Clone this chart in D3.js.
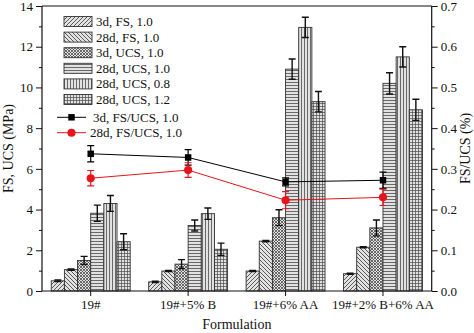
<!DOCTYPE html>
<html>
<head>
<meta charset="utf-8">
<script src="https://cdn.jsdelivr.net/npm/d3@7"></script>
<style>
  html, body { margin: 0; padding: 0; background: #fff; }
  svg { display: block; font-family: "Liberation Serif", "Times New Roman", serif; }
</style>
</head>
<body>
<svg id="chart" width="474" height="333"></svg>
<script>
// Formulations on the x axis
const categories = ["19#", "19#+5% B", "19#+6% AA", "19#+2% B+6% AA"];

// Bar series (MPa) and their error half-widths
const seriesNames = ["3d, FS, 1.0", "28d, FS, 1.0", "3d, UCS, 1.0", "28d, UCS, 1.0", "28d, UCS, 0.8", "28d, UCS, 1.2"];
const fs3d      = [0.50, 0.45, 0.98, 0.85];
const fs3dErr   = [0.04, 0.03, 0.03, 0.03];
const fs28d     = [1.05, 0.98, 2.45, 2.15];
const fs28dErr  = [0.03, 0.03, 0.03, 0.03];
const ucs3d     = [1.50, 1.32, 3.60, 3.10];
const ucs3dErr  = [0.20, 0.22, 0.39, 0.39];
const ucs28d10  = [3.82, 3.22, 10.90, 10.20];
const ucs28d10Err = [0.40, 0.27, 0.50, 0.52];
const ucs28d08  = [4.30, 3.80, 12.95, 11.50];
const ucs28d08Err = [0.39, 0.28, 0.50, 0.50];
const ucs28d12  = [2.42, 2.05, 9.30, 8.90];
const ucs28d12Err = [0.39, 0.30, 0.50, 0.52];

// Ratio series (%) on the right axis
const ratio3d     = [0.337, 0.328, 0.268, 0.272];
const ratio3dErr  = [0.020, 0.019, 0.010, 0.020];
const ratio28d    = [0.277, 0.297, 0.223, 0.230];
const ratio28dErr = [0.019, 0.018, 0.021, 0.020];
const ratioNames  = ["3d, FS/UCS, 1.0", "28d, FS/UCS, 1.0"];

// Tick labels
const leftTicks  = [0, 2, 4, 6, 8, 10, 12, 14];
const rightTicks = [0.0, 0.1, 0.2, 0.3, 0.4, 0.5, 0.6, 0.7];

const barValues = [fs3d, fs28d, ucs3d, ucs28d10, ucs28d08, ucs28d12];
const barErrors = [fs3dErr, fs28dErr, ucs3dErr, ucs28d10Err, ucs28d08Err, ucs28d12Err];
const patternIds = ["p-diag-up", "p-diag-down", "p-cross", "p-horiz", "p-vert", "p-grid"];

const svg = d3.select("#chart");
const margin = { left: 42, right: 474 - 431.7, top: 6, bottom: 333 - 291 };
const W = 474, H = 333;
const x0 = margin.left, x1 = W - margin.right, yTop = margin.top, yBot = H - margin.bottom;

// Hatch fills
const defs = svg.append("defs");
const hatchColor = "#4a4a4a";
const hatchBg = "#e2e2e2";
function pattern(id, size, draw) {
  const p = defs.append("pattern").attr("id", id)
    .attr("patternUnits", "userSpaceOnUse").attr("width", size).attr("height", size);
  p.append("rect").attr("width", size).attr("height", size).attr("fill", hatchBg);
  draw(p, size);
}
pattern("p-diag-up", 4, (p, s) => p.append("path")
  .attr("d", `M-1,1 L1,-1 M0,${s} L${s},0 M${s - 1},${s + 1} L${s + 1},${s - 1}`)
  .attr("stroke", hatchColor).attr("stroke-width", 0.9));
pattern("p-diag-down", 4, (p, s) => p.append("path")
  .attr("d", `M-1,${s - 1} L1,${s + 1} M0,0 L${s},${s} M${s - 1},-1 L${s + 1},1`)
  .attr("stroke", hatchColor).attr("stroke-width", 0.9));
pattern("p-cross", 3, (p, s) => p.append("path")
  .attr("d", `M0,0 L${s},${s} M0,${s} L${s},0`)
  .attr("stroke", hatchColor).attr("stroke-width", 0.8));
pattern("p-horiz", 3, (p, s) => p.append("path")
  .attr("d", `M0,1.5 L${s},1.5`).attr("stroke", hatchColor).attr("stroke-width", 0.8));
pattern("p-vert", 3, (p, s) => p.append("path")
  .attr("d", `M1.5,0 L1.5,${s}`).attr("stroke", hatchColor).attr("stroke-width", 0.8));
pattern("p-grid", 3, (p, s) => p.append("path")
  .attr("d", `M0,1.5 L${s},1.5 M1.5,0 L1.5,${s}`).attr("stroke", hatchColor).attr("stroke-width", 0.7));

// Scales
const x = d3.scaleBand().domain(categories).range([x0, x1]).padding(0);
const groupW = x.bandwidth() * 0.81;
const xi = d3.scaleBand().domain(d3.range(seriesNames.length)).range([-groupW / 2, groupW / 2]).padding(0);
const yL = d3.scaleLinear().domain([0, 14]).range([yBot, yTop]);
const yR = d3.scaleLinear().domain([0, 0.7]).range([yBot, yTop]);

// Bars
const bars = svg.append("g");
barValues.forEach((vals, si) => {
  bars.selectAll(null).data(vals).join("rect")
    .attr("x", (d, i) => x(categories[i]) + x.bandwidth() / 2 + xi(si))
    .attr("y", d => yL(d))
    .attr("width", xi.bandwidth())
    .attr("height", d => yL(0) - yL(d))
    .attr("fill", `url(#${patternIds[si]})`)
    .attr("stroke", "#333").attr("stroke-width", 0.9);
});

// Bar error bars
const errG = svg.append("g").attr("stroke", "#111").attr("stroke-width", 1.4).attr("fill", "none");
barValues.forEach((vals, si) => {
  vals.forEach((v, i) => {
    const cx = x(categories[i]) + x.bandwidth() / 2 + xi(si) + xi.bandwidth() / 2;
    const e = barErrors[si][i];
    const yt = yL(v + e), yb = yL(v - e);
    errG.append("path").attr("d",
      `M${cx},${yt} L${cx},${yb} M${cx - 3.5},${yt} L${cx + 3.5},${yt} M${cx - 3.5},${yb} L${cx + 3.5},${yb}`);
  });
});

// Ratio lines
const cxOf = i => x(categories[i]) + x.bandwidth() / 2;
function ratioSeries(vals, errs, color, marker) {
  const g = svg.append("g");
  g.append("path").datum(vals)
    .attr("d", d3.line().x((d, i) => cxOf(i)).y(d => yR(d)))
    .attr("fill", "none").attr("stroke", color).attr("stroke-width", 1);
  vals.forEach((v, i) => {
    const cx = cxOf(i), yt = yR(v + errs[i]), yb = yR(v - errs[i]);
    g.append("path").attr("d",
      `M${cx},${yt} L${cx},${yb} M${cx - 3.5},${yt} L${cx + 3.5},${yt} M${cx - 3.5},${yb} L${cx + 3.5},${yb}`)
      .attr("stroke", color).attr("stroke-width", 1.2).attr("fill", "none");
  });
  g.selectAll(null).data(vals).join("path")
    .attr("transform", (d, i) => `translate(${cxOf(i)},${yR(d)})`)
    .attr("d", d3.symbol().type(marker).size(marker === d3.symbolSquare ? 42 : 52))
    .attr("fill", color);
}
ratioSeries(ratio3d, ratio3dErr, "#000", d3.symbolSquare);
ratioSeries(ratio28d, ratio28dErr, "#e8141c", d3.symbolCircle);

// Axes
const fontSize = 13;
const leftAxis = svg.append("g").attr("transform", `translate(${x0},0)`)
  .call(d3.axisLeft(yL).tickValues(leftTicks).tickSize(6).tickPadding(3).tickFormat(d3.format("d")));
svg.append("g").attr("transform", `translate(${x0},0)`)
  .call(d3.axisLeft(yL).tickValues(d3.range(1, 14, 2)).tickSize(3).tickFormat(""))
  .select(".domain").remove();
const rightAxis = svg.append("g").attr("transform", `translate(${x1},0)`)
  .call(d3.axisRight(yR).tickValues(rightTicks).tickSize(6).tickPadding(3).tickFormat(d3.format(".1f")));
svg.append("g").attr("transform", `translate(${x1},0)`)
  .call(d3.axisRight(yR).tickValues(d3.range(0.05, 0.7, 0.1)).tickSize(3).tickFormat(""))
  .select(".domain").remove();
const bottomAxis = svg.append("g").attr("transform", `translate(0,${yBot})`)
  .call(d3.axisBottom(x).tickSize(5).tickPadding(4));

svg.selectAll(".tick text").attr("font-size", fontSize).attr("font-family", "Liberation Serif").attr("fill", "#111");
svg.selectAll(".tick line").attr("stroke", "#111").attr("stroke-width", 1);
svg.selectAll(".domain").attr("stroke", "#111").attr("stroke-width", 1.2);
leftAxis.select(".domain").attr("d", `M0,${yBot}V${yTop}`);
rightAxis.select(".domain").attr("d", `M0,${yBot}V${yTop}`);
bottomAxis.select(".domain").attr("d", `M${x0},0H${x1}`);

// Top frame line
svg.append("line").attr("x1", x0).attr("x2", x1).attr("y1", yTop).attr("y2", yTop)
  .attr("stroke", "#111").attr("stroke-width", 1.2);

// Axis titles
svg.append("text").attr("transform", `translate(13,${(yTop + yBot) / 2}) rotate(-90)`)
  .attr("text-anchor", "middle").attr("font-size", 14).attr("fill", "#111").text("FS, UCS (MPa)");
svg.append("text").attr("transform", `translate(470,${(yTop + yBot) / 2}) rotate(-90)`)
  .attr("text-anchor", "middle").attr("font-size", 14).attr("fill", "#111").text("FS/UCS (%)");
svg.append("text").attr("x", (x0 + x1) / 2).attr("y", 329)
  .attr("text-anchor", "middle").attr("font-size", 14).attr("fill", "#111").text("Formulation");

// Legend
const legend = svg.append("g");
seriesNames.forEach((name, i) => {
  const cy = 21.5 + i * 15.6;
  legend.append("rect").attr("x", 64).attr("y", cy - 5).attr("width", 28).attr("height", 10)
    .attr("fill", `url(#${patternIds[i]})`).attr("stroke", "#333").attr("stroke-width", 0.9);
  legend.append("text").attr("x", 96).attr("y", cy + 4.5).attr("font-size", fontSize)
    .attr("fill", "#111").text(name);
});
[["#000", d3.symbolSquare, 42, 93], ["#e8141c", d3.symbolCircle, 52, 90]].forEach(([c, sym, sz, tx], i) => {
  const cy = 117.3 + i * 15.4;
  legend.append("line").attr("x1", 57).attr("x2", 86).attr("y1", cy).attr("y2", cy)
    .attr("stroke", c).attr("stroke-width", 1);
  legend.append("path").attr("transform", `translate(71.5,${cy})`)
    .attr("d", d3.symbol().type(sym).size(sz)).attr("fill", c);
  legend.append("text").attr("x", tx).attr("y", cy + 4.5).attr("font-size", fontSize)
    .attr("fill", "#111").text(ratioNames[i]);
});
</script>
</body>
</html>
